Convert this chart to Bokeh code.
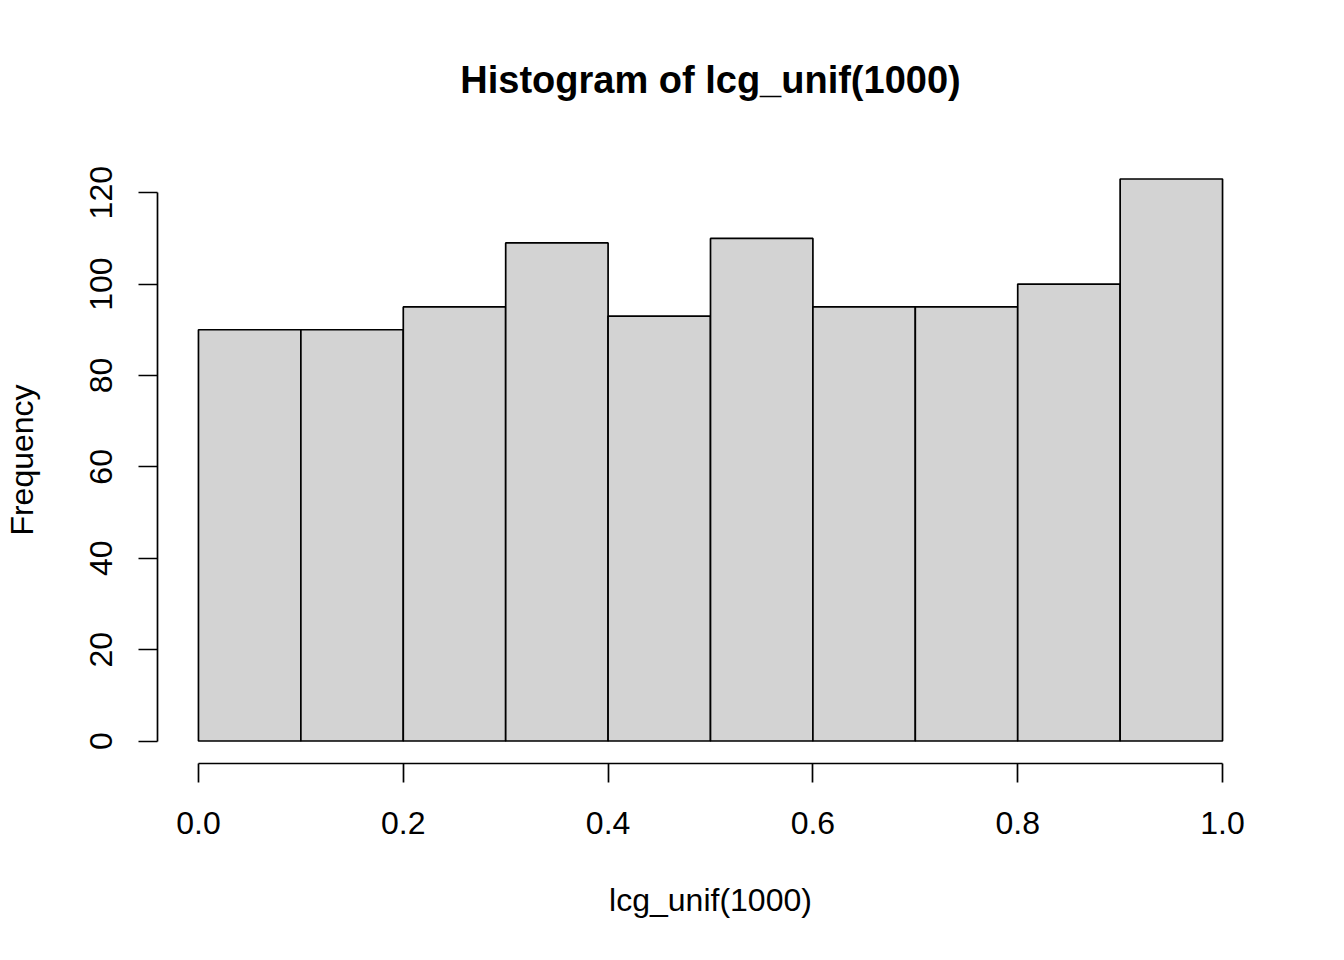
from bokeh.plotting import figure
from bokeh.models import Range1d, FixedTicker
from bokeh.embed import file_html
from bokeh.resources import INLINE

# Data
bin_edges = [0.0, 0.1, 0.2, 0.3, 0.4, 0.5, 0.6, 0.7, 0.8, 0.9, 1.0]
counts = [90, 90, 95, 109, 93, 110, 95, 95, 100, 123]
x_ticks = [0.0, 0.2, 0.4, 0.6, 0.8, 1.0]
x_tick_labels = ["0.0", "0.2", "0.4", "0.6", "0.8", "1.0"]
y_ticks = [0, 20, 40, 60, 80, 100, 120]

title_text = "Histogram of lcg_unif(1000)"
x_label = "lcg_unif(1000)"
y_label = "Frequency"

FONT = "Liberation Sans"

ymax = max(counts)
p = figure(
    width=1328, height=944,
    x_range=Range1d(-0.04, 1.04),
    y_range=Range1d(-0.04 * ymax, 1.04 * ymax),
    output_backend="svg", toolbar_location=None,
    min_border_left=155, min_border_right=65,
    min_border_top=156, min_border_bottom=181,
)
p.title.text = title_text
p.title.align = "center"
p.title.text_font = FONT
p.title.text_font_size = "38px"
p.title.text_font_style = "bold"
p.title.text_color = "black"
p.title.standoff = 111

p.outline_line_color = None
p.xgrid.visible = False
p.ygrid.visible = False
p.background_fill_color = "white"
p.border_fill_color = "white"

p.quad(left=bin_edges[:-1], right=bin_edges[1:], bottom=0, top=counts,
       fill_color="#D3D3D3", line_color="black", line_width=1.7)

for ax in (p.xaxis[0], p.yaxis[0]):
    ax.axis_line_width = 1.7
    ax.axis_line_color = "black"
    ax.major_tick_line_width = 1.7
    ax.major_tick_line_color = "black"
    ax.major_tick_out = 19
    ax.major_tick_in = 0
    ax.minor_tick_out = 0
    ax.minor_tick_in = 0
    ax.major_label_text_font = FONT
    ax.major_label_text_font_size = "32px"
    ax.major_label_text_color = "black"
    ax.axis_label_text_font = FONT
    ax.axis_label_text_font_size = "32px"
    ax.axis_label_text_font_style = "normal"
    ax.axis_label_text_color = "black"

xa = p.xaxis[0]
xa.ticker = FixedTicker(ticks=x_ticks)
xa.major_label_overrides = {t: l for t, l in zip(x_ticks, x_tick_labels)}
xa.bounds = (0, 1)
xa.major_label_standoff = 29
xa.axis_label = x_label
xa.axis_label_standoff = 45

ya = p.yaxis[0]
ya.ticker = FixedTicker(ticks=y_ticks)
ya.bounds = (0, 120)
ya.major_label_orientation = "vertical"
ya.major_label_standoff = 26
ya.axis_label = y_label
ya.axis_label_standoff = 48

open("out.html", "w").write(file_html(p, INLINE))
